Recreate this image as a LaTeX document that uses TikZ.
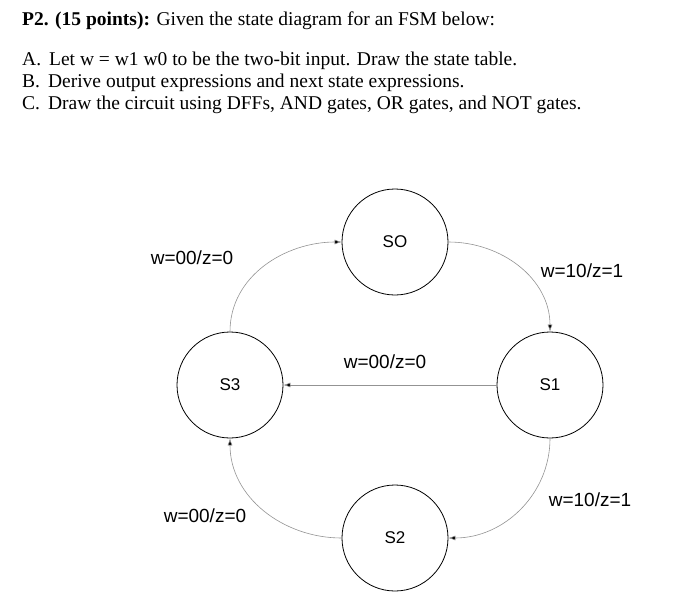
\documentclass[tikz,border=0pt]{standalone}
\usepackage{fontspec}
\setmainfont{Liberation Serif}
\newfontfamily\lsans{Liberation Sans}
\usetikzlibrary{arrows.meta}
\begin{document}
\begin{tikzpicture}[x=1pt,y=-1pt,
  st/.style={circle,draw=black,line width=0.8pt,minimum size=106pt,inner sep=0pt,font=\lsans\fontsize{17}{20}\selectfont},
  conn/.style={draw=gray!85,line width=0.6pt,-{Latex[length=7pt,width=5pt,fill=black]}},
  lab/.style={font=\lsans\fontsize{19}{22}\selectfont},
  hd/.style={anchor=base west,font=\fontsize{19.5}{22}\selectfont,inner sep=0pt}]
\useasboundingbox (0,0) rectangle (700,599);
\node[hd] (t0) at (22,26) {\textbf{P2. (15 points):} Given the state diagram for an FSM below:};
\node[hd] (ta) at (22,66) {A.\hspace{8pt}Let w = w1 w0 to be the two-bit input. Draw the state table.};
\node[hd] (tb) at (22,88) {B.\hspace{8pt}Derive output expressions and next state expressions.};
\node[hd] (tc) at (22,110) {C.\hspace{8pt}Draw the circuit using DFFs, AND gates, OR gates, and NOT gates.};
\node[st] (s0) at (395,242) {SO};
\node[st] (s3) at (230,385) {S3};
\node[st] (s1) at (550,385) {S1};
\node[st] (s2) at (395,538) {S2};
\draw[conn] (s3.north) to[out=90,in=180] (s0.west);
\draw[conn] (s0.east) to[out=0,in=90] (s1.north);
\draw[conn] (s1.west) -- (s3.east);
\draw[conn] (s1.south) to[out=-90,in=0] (s2.east);
\draw[conn] (s2.west) to[out=180,in=-90] (s3.south);
\node[lab] (l1) at (192,258) {w=00/z=0};
\node[lab] (l2) at (582,271) {w=10/z=1};
\node[lab] (l3) at (385,362) {w=00/z=0};
\node[lab] (l4) at (590,500) {w=10/z=1};
\node[lab] (l5) at (205,516) {w=00/z=0};
\end{tikzpicture}
\end{document}
